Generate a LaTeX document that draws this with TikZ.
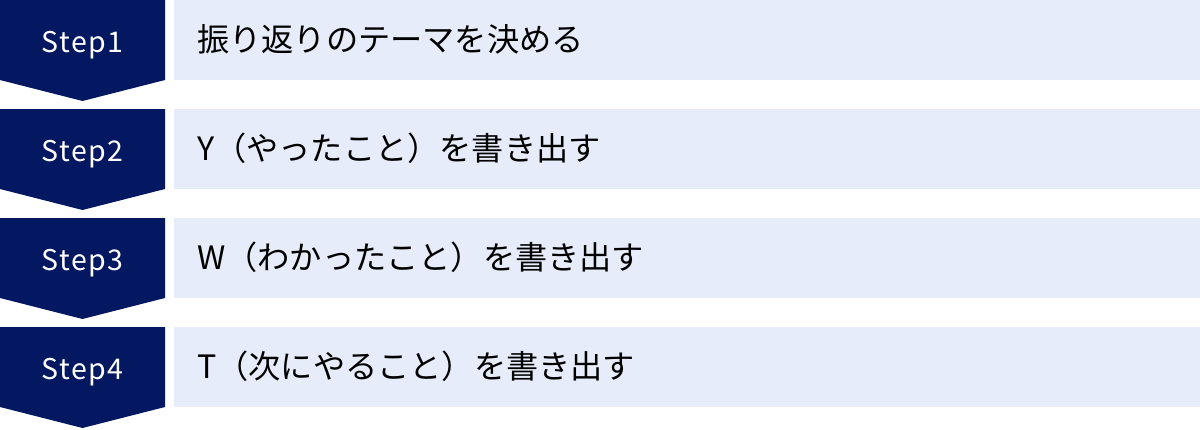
\documentclass[tikz,border=0pt]{standalone}
\usepackage{fontspec}
\setmainfont{Noto Sans CJK JP}
\newfontfamily\stepfont[LetterSpace=5]{Noto Sans CJK JP}
\definecolor{navy}{RGB}{4,24,98}
\definecolor{pale}{RGB}{230,236,249}
\tikzset{
  steplabel/.style={text=white,anchor=base,inner sep=0pt,font=\stepfont\fontsize{28.5}{30}\selectfont},
  itemtext/.style={anchor=base west,inner sep=0pt,font=\fontsize{32.2}{36}\selectfont}
}
\begin{document}
\begin{tikzpicture}[x=1pt,y=-1pt]
  \useasboundingbox (0,0) rectangle (1200,429);
  \foreach \i/\t in {1/振り返りのテーマを決める,2/Y（やったこと）を書き出す,3/W（わかったこと）を書き出す,4/T（次にやること）を書き出す}{
    % chevron and row box
    \fill[navy] (0,{(\i-1)*109}) -- ++(165,0) -- ++(0,80) -- ++(-82.5,21) -- ++(-82.5,-21) -- cycle;
    \fill[pale] (174,{(\i-1)*109}) rectangle ++(1026,80);
    \node[steplabel] (step\i) at (82.5,{(\i-1)*109+52}) {Step\i};
    \node[itemtext] (item\i) at (197,{(\i-1)*109+51}) {\t};
  }
\end{tikzpicture}
\end{document}
